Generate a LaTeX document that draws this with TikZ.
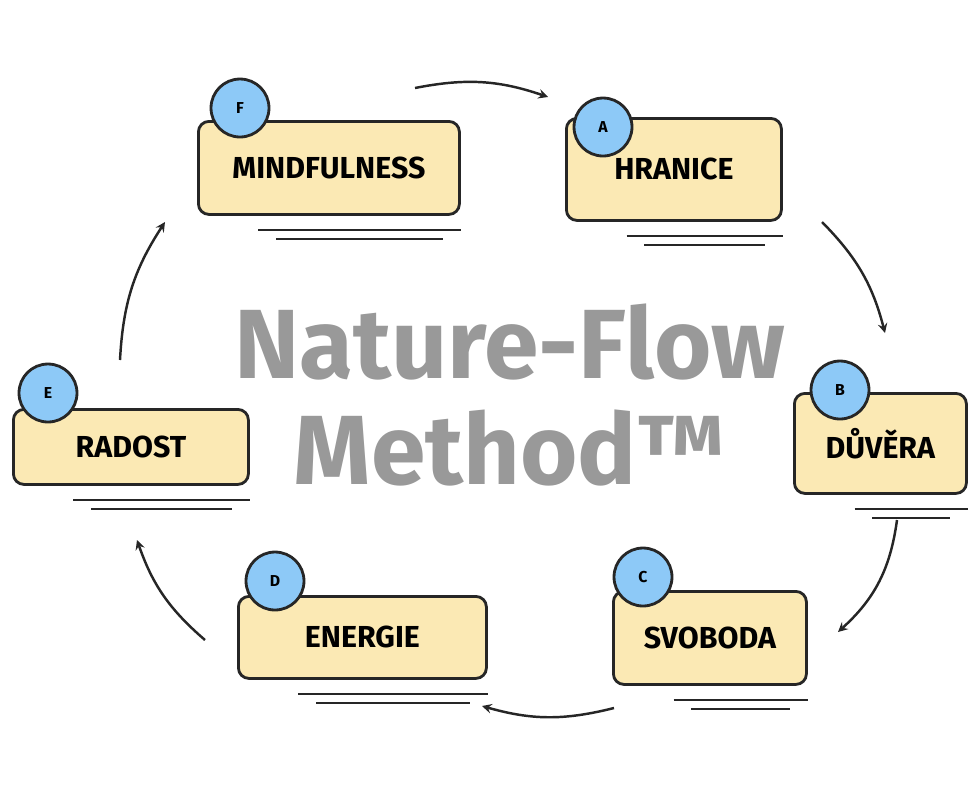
\documentclass[tikz,border=0pt]{standalone}
\usepackage{fontspec}
\setmainfont{Fira Sans}
\usetikzlibrary{positioning}
\definecolor{boxfill}{HTML}{FBE9B4}
\definecolor{dotfill}{HTML}{8DC9F7}
\tikzset{
  stage/.style={draw=black!85,line width=1.6pt,fill=boxfill,rounded corners=6pt,font=\bfseries\LARGE,anchor=north west},
  tag/.style={circle,draw=black!85,line width=1.6pt,fill=dotfill,minimum size=33pt,inner sep=0pt,font=\bfseries\small},
  flow/.style={-stealth,line width=1.4pt,black!85},
  under/.style={line width=1.2pt,black!85}
}
\begin{document}
\begin{tikzpicture}[x=0.02cm,y=-0.02cm]
\useasboundingbox (0,0) rectangle (977,796);
% title
\node[font=\fontsize{56}{60}\selectfont\bfseries,text=black!40,align=center] (title) at (510,395) {Nature-Flow\\Method™};
% boxes
\node[stage,minimum width=261*0.02cm,minimum height=93*0.02cm] (mind) at (197,120) {MINDFULNESS};
\node[stage,minimum width=215*0.02cm,minimum height=102*0.02cm] (hran) at (565,117) {HRANICE};
\node[stage,minimum width=172*0.02cm,minimum height=100*0.02cm] (duv) at (793,392) {DŮVĚRA};
\node[stage,minimum width=193*0.02cm,minimum height=93*0.02cm] (svob) at (612,590) {SVOBODA};
\node[stage,minimum width=248*0.02cm,minimum height=82*0.02cm] (ener) at (237,595) {ENERGIE};
\node[stage,minimum width=235*0.02cm,minimum height=75*0.02cm] (rad) at (12,408) {RADOST};
% tags
\node[tag] (tf) at (240,108) {F};
\node[tag] (ta) at (603,127) {A};
\node[tag] (tb) at (840,390) {B};
\node[tag] (tc) at (643,577) {C};
\node[tag] (td) at (275,581) {D};
\node[tag] (te) at (48,393) {E};
% underlines
\foreach \n in {mind,hran,duv,svob,ener,rad}{
  \draw[under] ([xshift=35pt,yshift=-8pt]\n.south west) -- ([yshift=-8pt]\n.south east);
  \draw[under] ([xshift=45pt,yshift=-13pt]\n.south west) -- ([xshift=-10pt,yshift=-13pt]\n.south east);
}
% arrows
\coordinate (a1) at (415,88);  \coordinate (b1) at (548,97);
\coordinate (a2) at (822,222); \coordinate (b2) at (885,333);
\coordinate (a3) at (897,520); \coordinate (b3) at (838,632);
\coordinate (a4) at (614,708); \coordinate (b4) at (482,706);
\coordinate (a5) at (205,640); \coordinate (b5) at (137,540);
\coordinate (a6) at (120,360); \coordinate (b6) at (165,222);
\draw[flow] (a1) to[bend left=15] (b1);
\draw[flow] (a2) to[bend left=15] (b2);
\draw[flow] (a3) to[bend left=20] (b3);
\draw[flow] (a4) to[bend left=15] (b4);
\draw[flow] (a5) to[bend left=15] (b5);
\draw[flow] (a6) to[bend left=15] (b6);
\end{tikzpicture}
\end{document}
